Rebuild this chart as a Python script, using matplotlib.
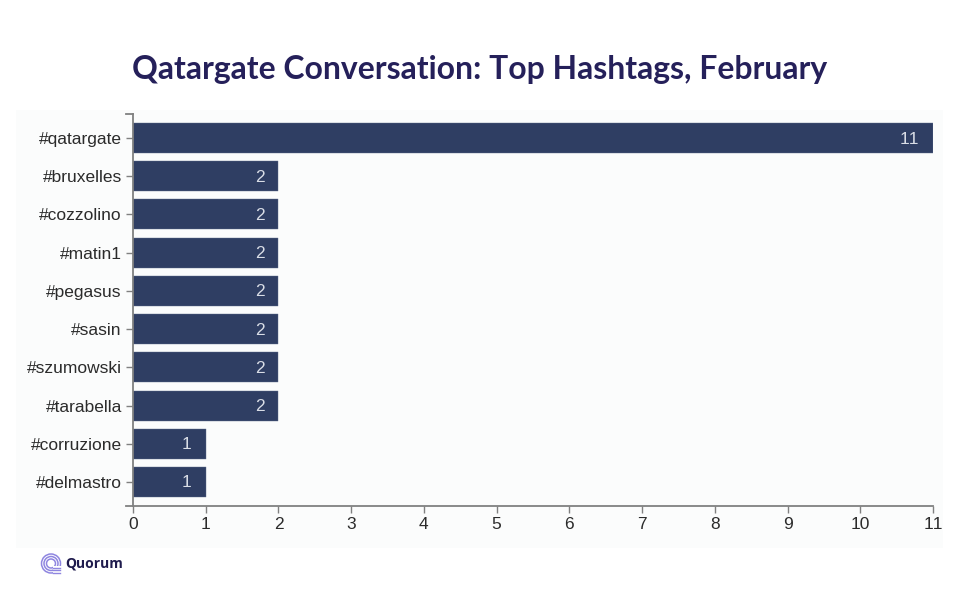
#!/usr/bin/env python

from matplotlib import pyplot as plt
from matplotlib.patches import Circle, Rectangle

hashtags = ['#qatargate', '#bruxelles', '#cozzolino', '#matin1', '#pegasus',
            '#sasin', '#szumowski', '#tarabella', '#corruzione', '#delmastro']
counts = [11, 2, 2, 2, 2, 2, 2, 2, 1, 1]
xticks = list(range(12))

W, H = 960, 600
NAVY = '#2f3e63'
AXIS = '#808080'
TEXT = '#2b2b2b'


def px_axes(fig, left, top, right, bottom):
    """ axes from pixel edges, y counted from the top """
    return fig.add_axes([left/W, 1-bottom/H, (right-left)/W, (bottom-top)/H])


def add_logo(fig):
    # rings with a small tail, then the word
    ax = fig.add_axes([0, 0, 1, 1], zorder=5)
    ax.set_xlim(0, W)
    ax.set_ylim(H, 0)
    ax.axis('off')
    for r in (9.5, 7, 4.5):
        ax.add_patch(Circle((51, 563.5), r, fill=False, ec='#8f86e0', lw=1.1))
    ax.add_patch(Rectangle((53, 566), 8, 7, fc='white', ec='none'))
    for y in (567.5, 570, 572.5):
        ax.plot([53, 60], [y, y], color='#8f86e0', lw=1.0)
    ax.text(65, 564, 'Quorum', fontsize=10, fontweight='bold', color='#1f1b4d',
            family='Open Sans', ha='left', va='center')


def main():
    plt.rcParams['font.family'] = ['Liberation Sans', 'DejaVu Sans']
    plt.rcParams['text.kerning_factor'] = 6

    fig = plt.figure(figsize=(W/100, H/100), dpi=100, facecolor='white')

    # pale panel behind the plot
    panel = px_axes(fig, 16, 110, 943, 548)
    panel.set_facecolor('#fbfcfc')
    panel.set_xticks([])
    panel.set_yticks([])
    for s in panel.spines.values():
        s.set_visible(False)

    ax = px_axes(fig, 133, 114, 933, 506)
    ax.patch.set_alpha(0)
    y = list(range(len(hashtags)))
    ax.barh(y, counts, height=0.785, color=NAVY, edgecolor='#5f6c8c', linewidth=0.3)
    ax.set_xlim(0, 11)
    ax.set_ylim(9.628, -0.628)

    ax.set_yticks(y)
    ax.set_yticklabels(hashtags)
    ax.set_xticks(xticks)
    ax.tick_params(axis='y', length=5, width=1, color=AXIS, labelsize=12.5,
                   labelcolor=TEXT, pad=3)
    ax.tick_params(axis='x', length=5, width=1, color=AXIS, labelsize=12.5,
                   labelcolor=TEXT, pad=3)
    for s in ('top', 'right'):
        ax.spines[s].set_visible(False)
    for s in ('left', 'bottom'):
        ax.spines[s].set_color(AXIS)
        ax.spines[s].set_linewidth(1.3)

    # end caps of the axis lines
    ax.plot([-7/800*11, 0], [-0.628, -0.628], color=AXIS, lw=1.3, clip_on=False)
    ax.plot([-7/800*11, 0], [9.628, 9.628], color=AXIS, lw=1.3, clip_on=False)

    for yi, c in zip(y, counts):
        ax.annotate(str(c), (c, yi), xytext=(-14, -1), textcoords='offset pixels',
                    ha='right', va='center', fontsize=12.5, color='#d9dde6')

    fig.text(480/W, 1-70/H, 'Qatargate Conversation: Top Hashtags, February',
             fontsize=22.98, fontweight='bold', family='Lato', color='#25205a',
             ha='center', va='center')

    add_logo(fig)
    fig.savefig('out.png', dpi=100)


if __name__ == '__main__':
    main()
